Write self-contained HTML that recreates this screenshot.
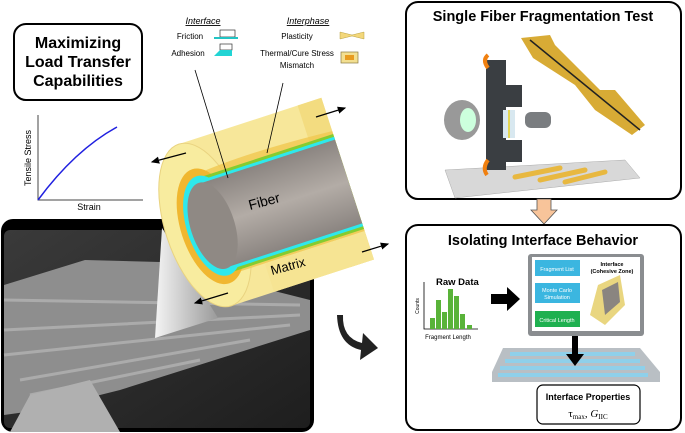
<!DOCTYPE html>
<html><head><meta charset="utf-8"><style>
body{margin:0;background:#fff}
svg{display:block;font-family:"Liberation Sans",sans-serif}
</style></head><body>
<svg width="685" height="433" viewBox="0 0 685 433" xmlns="http://www.w3.org/2000/svg">
<defs>
<linearGradient id="sem" x1="0" y1="0" x2="1" y2="1"><stop offset="0" stop-color="#3a3a3a"/><stop offset="1" stop-color="#1e1e1e"/></linearGradient>
<linearGradient id="cone" x1="0" y1="0" x2="1" y2="0"><stop offset="0" stop-color="#f4f4f4"/><stop offset="1" stop-color="#9a9a9a"/></linearGradient>
<linearGradient id="fib" x1="0" y1="0" x2="0" y2="1"><stop offset="0" stop-color="#8a8480"/><stop offset="0.5" stop-color="#b3aca6"/><stop offset="1" stop-color="#8a8480"/></linearGradient>
<marker id="ah" markerWidth="8" markerHeight="8" refX="6" refY="4" orient="auto"><path d="M0,1 L7,4 L0,7z" fill="#000"/></marker>
</defs>

<rect x="14" y="24" width="128" height="76" rx="12" fill="#fff" stroke="#000" stroke-width="2"/>
<text x="78" y="48" font-size="16" font-weight="bold" text-anchor="middle">Maximizing</text>
<text x="78" y="67" font-size="16" font-weight="bold" text-anchor="middle">Load Transfer</text>
<text x="78" y="86" font-size="16" font-weight="bold" text-anchor="middle">Capabilities</text>

<path d="M38,115 V200 H143" fill="none" stroke="#444" stroke-width="1"/>
<path d="M38,200 Q75,150 117,127" fill="none" stroke="#2020e0" stroke-width="1.5"/>
<text x="31" y="158" font-size="9" text-anchor="middle" transform="rotate(-90 31 158)">Tensile Stress</text>
<text x="89" y="210" font-size="9" text-anchor="middle">Strain</text>

<rect x="1" y="219" width="313" height="213" rx="12" fill="#000"/>
<rect x="4" y="230" width="306" height="198" rx="6" fill="url(#sem)"/>
<path d="M4,285 L85,260 L160,262 L310,300 L310,330 L120,390 L40,410 L4,415z" fill="#8e8e8e"/>
<path d="M4,300 L300,305 M4,330 L300,315 M4,355 L290,325 M20,380 L250,340 M30,395 L200,360" stroke="#b8b8b8" stroke-width="3" opacity="0.7"/>
<path d="M30,395 L90,380 L120,432 L10,432z" fill="#b0b0b0"/>
<polygon points="155,338 162,228 218,318" fill="url(#cone)"/>

<text x="203" y="24" font-size="9" font-style="italic" text-anchor="middle" text-decoration="underline">Interface</text>
<text x="190" y="39" font-size="8" text-anchor="middle">Friction</text>
<rect x="220" y="30" width="15" height="7" fill="#fff" stroke="#333" stroke-width="0.7"/>
<rect x="214" y="37" width="24" height="2" fill="#22c4c4"/>
<text x="188" y="56" font-size="8" text-anchor="middle">Adhesion</text>
<rect x="220" y="44" width="12" height="6" fill="#fff" stroke="#333" stroke-width="0.7"/>
<path d="M214,56 L220,50 H232 V56z" fill="#22d4d4"/>
<text x="308" y="24" font-size="9" font-style="italic" text-anchor="middle" text-decoration="underline">Interphase</text>
<text x="297" y="39" font-size="8" text-anchor="middle">Plasticity</text>
<path d="M340,32 L352,35 L364,32 V39 L352,36 L340,39z" fill="#f3d77a" stroke="#b9a040" stroke-width="0.5"/>
<text x="297" y="56" font-size="8" text-anchor="middle">Thermal/Cure Stress</text>
<text x="297" y="68" font-size="8" text-anchor="middle">Mismatch</text>
<rect x="341" y="52" width="17" height="11" fill="#f3df90" stroke="#8a7a40" stroke-width="0.7"/>
<rect x="345" y="55" width="9" height="5" fill="#e89b20"/>

<g transform="rotate(-18 205 225)">
  <rect x="205" y="140" width="150" height="170" fill="#f7e79a"/>
  <rect x="330" y="140" width="25" height="170" fill="#f3dc80"/>
  <ellipse cx="205" cy="225" rx="40" ry="85" fill="#f8ec9f" stroke="#e9d380" stroke-width="1"/>
  <path d="M205,175 Q260,168 355,175 V280 H205z" fill="#f0c850" opacity="0.8"/>
  <ellipse cx="210" cy="228" rx="30" ry="60" fill="#f0b730"/>
  <rect x="215" y="178" width="140" height="100" fill="#85cc30"/>
  <ellipse cx="212" cy="228" rx="26" ry="52" fill="#2ee8ec"/>
  <rect x="215" y="183" width="140" height="90" fill="url(#fib)"/>
  <rect x="215" y="181" width="140" height="3" fill="#2ee8ec"/>
  <rect x="215" y="272" width="140" height="3" fill="#2ee8ec"/>
  <ellipse cx="212" cy="228" rx="22" ry="45" fill="#8f8984"/>
  <rect x="250" y="280" width="105" height="30" fill="#f6e493"/>
</g>
<text x="250" y="210" font-size="14" transform="rotate(-15 250 210)">Fiber</text>
<text x="272" y="275" font-size="13" transform="rotate(-15 272 275)">Matrix</text>
<line x1="195" y1="70" x2="228" y2="178" stroke="#000" stroke-width="0.8"/>
<line x1="283" y1="83" x2="267" y2="153" stroke="#000" stroke-width="0.8"/>
<line x1="186" y1="153" x2="152" y2="162" stroke="#000" stroke-width="1.2" marker-end="url(#ah)"/>
<line x1="316" y1="117" x2="345" y2="108" stroke="#000" stroke-width="1.2" marker-end="url(#ah)"/>
<line x1="228" y1="293" x2="195" y2="303" stroke="#000" stroke-width="1.2" marker-end="url(#ah)"/>
<line x1="362" y1="252" x2="388" y2="244" stroke="#000" stroke-width="1.2" marker-end="url(#ah)"/>

<path d="M343,315 Q342,338 362,343 L363,333 L378,348 L360,360 L361,350 Q338,345 337,315z" fill="#222"/>

<rect x="406" y="2" width="275" height="197" rx="12" fill="#fff" stroke="#000" stroke-width="2"/>
<text x="543" y="21" font-size="14.5" font-weight="bold" text-anchor="middle">Single Fiber Fragmentation Test</text>
<polygon points="445,170 625,160 640,178 455,198" fill="#d8d8d8" stroke="#aaa" stroke-width="0.5"/>
<path d="M515,177 L560,168 M540,180 L585,170 M565,182 L605,172" stroke="#e8b840" stroke-width="5" stroke-linecap="round"/>
<rect x="486" y="60" width="20" height="110" fill="#3a3e42"/>
<rect x="500" y="85" width="22" height="22" fill="#3a3e42"/>
<rect x="500" y="140" width="22" height="22" fill="#3a3e42"/>
<rect x="503" y="110" width="12" height="28" fill="#d8e8f0"/>
<line x1="509" y1="110" x2="509" y2="138" stroke="#e8d020" stroke-width="1.5"/>
<ellipse cx="462" cy="120" rx="18" ry="20" fill="#999"/>
<ellipse cx="468" cy="120" rx="8" ry="12" fill="#cfd"/>
<rect x="525" y="112" width="26" height="16" rx="6" fill="#7a7d80"/>
<path d="M488,68 Q482,60 488,55" stroke="#f08010" stroke-width="4" fill="none"/>
<path d="M488,160 Q482,168 487,175" stroke="#f08010" stroke-width="4" fill="none"/>
<polygon points="521,38 550,35 555,45 600,90 615,90 645,125 632,135 595,110 575,85 533,58" fill="#d8ab35"/>
<line x1="530" y1="40" x2="640" y2="130" stroke="#222" stroke-width="1.5"/>

<polygon points="537,199 551,199 551,210 557,210 544,224 531,210 537,210" fill="#f8c49a" stroke="#555" stroke-width="0.8"/>

<rect x="406" y="225" width="275" height="205" rx="12" fill="#fff" stroke="#000" stroke-width="2"/>
<text x="543" y="245" font-size="14.5" font-weight="bold" text-anchor="middle">Isolating Interface Behavior</text>
<text x="436" y="285" font-size="9.5" font-weight="bold">Raw Data</text>
<path d="M424,282 V329 H478" fill="none" stroke="#000" stroke-width="0.8"/>
<g fill="#59b339"><rect x="430" y="318" width="5" height="11"/><rect x="436" y="300" width="5" height="29"/><rect x="442" y="312" width="5" height="17"/><rect x="448" y="289" width="5" height="40"/><rect x="454" y="296" width="5" height="33"/><rect x="460" y="314" width="5" height="15"/><rect x="467" y="325" width="5" height="4"/></g>
<text x="419" y="306" font-size="5" text-anchor="middle" transform="rotate(-90 419 306)">Counts</text>
<text x="448" y="339" font-size="6" text-anchor="middle">Fragment Length</text>
<polygon points="491,294 507,294 507,287 520,299 507,311 507,304 491,304" fill="#000"/>
<rect x="528" y="254" width="116" height="82" rx="3" fill="#8a8d90"/>
<rect x="532" y="257" width="108" height="74" fill="#fff"/>
<rect x="535" y="260" width="45" height="16" fill="#3bb6e0"/><text x="557" y="271" font-size="5.5" fill="#fff" text-anchor="middle">Fragment List</text>
<rect x="535" y="283" width="45" height="20" fill="#3bb6e0"/><text x="557" y="292" font-size="5.5" fill="#fff" text-anchor="middle">Monte Carlo</text><text x="557" y="299" font-size="5.5" fill="#fff" text-anchor="middle">Simulation</text>
<rect x="535" y="311" width="45" height="16" fill="#1fb050"/><text x="557" y="322" font-size="5.5" fill="#fff" text-anchor="middle">Critical Length</text>
<text x="612" y="266" font-size="5.5" font-weight="bold" text-anchor="middle">Interface</text>
<text x="612" y="273" font-size="5.5" font-weight="bold" text-anchor="middle">(Cohesive Zone)</text>
<polygon points="598,285 620,275 625,305 605,325 590,315" fill="#e9d680"/>
<polygon points="602,290 618,282 620,302 605,315" fill="#8a8580"/>
<polygon points="503,348 640,348 660,372 660,382 492,382 492,372" fill="#b9bfc4"/>
<g fill="#8fd0ea"><rect x="510" y="352" width="125" height="4"/><rect x="505" y="359" width="135" height="4"/><rect x="500" y="366" width="145" height="4"/><rect x="498" y="373" width="150" height="4"/></g>
<polygon points="572,336 578,336 578,354 584,354 575,366 566,354 572,354" fill="#000"/>
<rect x="537" y="385" width="103" height="39" rx="6" fill="#fff" stroke="#000" stroke-width="1.2"/>
<text x="588" y="400" font-size="9" font-weight="bold" text-anchor="middle">Interface Properties</text>
<text x="588" y="417" font-size="11" font-family="Liberation Serif,serif" text-anchor="middle">τ<tspan font-size="7" dy="2">max</tspan><tspan dy="-2">, </tspan><tspan font-style="italic">G</tspan><tspan font-size="7" dy="2">IIC</tspan></text>
</svg>
</body></html>
